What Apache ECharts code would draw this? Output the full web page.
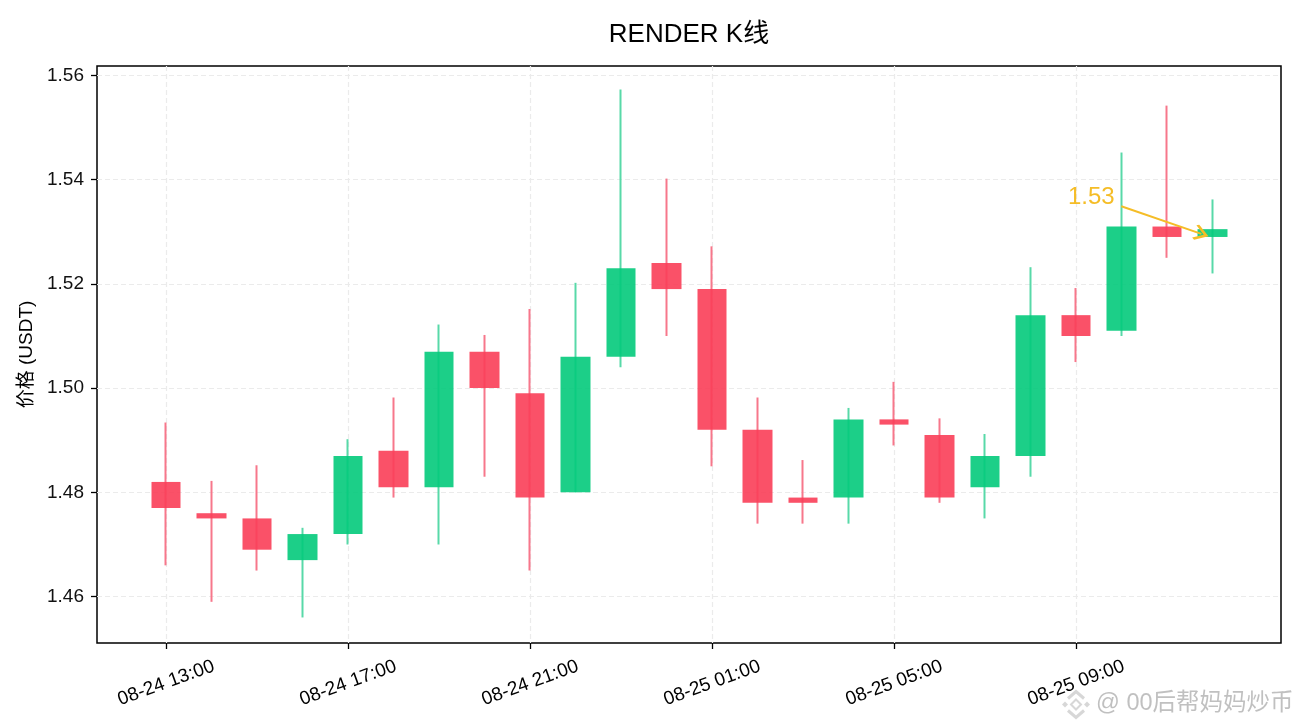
<!DOCTYPE html>
<html><head><meta charset="utf-8">
<style>html,body{margin:0;padding:0;background:#fff}#c{width:1300px;height:728px}</style>
<script src="https://cdn.jsdelivr.net/npm/echarts@6/dist/echarts.min.js"></script>
</head><body><div id="c"></div>
<script>
const titleText = 'RENDER K线';
const yAxisName = '价格 (USDT)';
const watermarkText = '@ 00后帮妈妈炒币';
const annotationText = '1.53';
const slots = [0,1,2,3,4,5,6,7,8,9,10,11,12,13,14,15,16,17,18,19,20,21,22,23];
const opens  = [1.482,1.476,1.475,1.467,1.472,1.488,1.481,1.507,1.499,1.480,1.506,1.524,1.519,1.492,1.479,1.479,1.494,1.491,1.481,1.487,1.514,1.511,1.531,1.529];
const closes = [1.477,1.475,1.469,1.472,1.487,1.481,1.507,1.500,1.479,1.506,1.523,1.519,1.492,1.478,1.478,1.494,1.493,1.479,1.487,1.514,1.510,1.531,1.529,1.5305];
const lows   = [1.466,1.459,1.465,1.456,1.470,1.479,1.470,1.483,1.465,1.480,1.504,1.510,1.485,1.474,1.474,1.474,1.489,1.478,1.475,1.483,1.505,1.510,1.525,1.522];
const highs  = [1.4934,1.4822,1.4852,1.4732,1.4902,1.4982,1.5122,1.5102,1.5152,1.5202,1.5573,1.5402,1.5272,1.4982,1.4862,1.4962,1.5012,1.4942,1.4912,1.5232,1.5192,1.5452,1.5542,1.5362];
const xTickSlots = [0,4,8,12,16,20];
const xTickLabels = ['08-24 13:00','08-24 17:00','08-24 21:00','08-25 01:00','08-25 05:00','08-25 09:00'];
const yTicks = [1.46,1.48,1.50,1.52,1.54,1.56];

const GREEN='rgba(3,202,123,0.9)', RED='rgba(249,62,88,0.9)', GREEN_W='#58D9A8', RED_W='#F7778B', GOLD='#F5BD27';
const FONT='"Liberation Sans","Noto Sans CJK SC",sans-serif';
const wickData = slots.map((s,i)=>[s,opens[i],closes[i],lows[i],highs[i]]);
const bodyData = slots.map((s,i)=>[s,opens[i],closes[i],Math.min(opens[i],closes[i]),Math.max(opens[i],closes[i])]);
const chevron='path://M0,0 L10,9 L8.2,10.8 L0,3.6 L-8.2,10.8 L-10,9 Z';
const LOGO='rgba(175,175,175,0.5)';
const chart=echarts.init(document.getElementById('c'),null,{renderer:'canvas'});
chart.setOption({
  animation:false,
  backgroundColor:'#fff',
  title:{text:titleText,left:684,top:17,textAlign:'center',textStyle:{fontFamily:FONT,fontSize:26,fontWeight:'normal',color:'#000'}},
  grid:{left:97,top:66,width:1184,height:577,show:true,borderColor:'#000',borderWidth:1.5,backgroundColor:'#fff'},
  xAxis:{type:'value',min:-1.52,max:24.5,
    axisLine:{show:false,onZero:false},
    axisTick:{show:true,length:6,customValues:xTickSlots,lineStyle:{color:'#000',width:1.3}},
    axisLabel:{customValues:xTickSlots,formatter:v=>xTickLabels[xTickSlots.indexOf(v)],rotate:20,align:'center',verticalAlign:'middle',margin:40,
      fontFamily:FONT,fontSize:19,color:'#000',hideOverlap:false},
    splitLine:{show:true,lineStyle:{type:[5,3],color:'#ebebeb',width:1.2}}},
  yAxis:{type:'value',min:1.4511,max:1.5618,scale:true,name:yAxisName,nameLocation:'middle',nameGap:54,nameRotate:90,
    nameTextStyle:{fontFamily:FONT,fontSize:19,color:'#000'},
    axisLine:{show:false,onZero:false},
    axisTick:{show:true,length:6,customValues:yTicks,lineStyle:{color:'#000',width:1.3}},
    axisLabel:{customValues:yTicks,formatter:v=>v.toFixed(2),margin:13,fontFamily:FONT,fontSize:19,color:'#111'},
    splitLine:{show:true,lineStyle:{type:[5,3],color:'#ebebeb',width:1.2}}},
  series:[
    {name:'wick',type:'candlestick',barWidth:1,z:2,data:wickData,encode:{x:0,y:[1,2,3,4]},silent:true,
      itemStyle:{color:GREEN_W,color0:RED_W,borderColor:GREEN_W,borderColor0:RED_W,borderWidth:2}},
    {name:'body',type:'candlestick',barWidth:30,z:3,data:bodyData,encode:{x:0,y:[1,2,3,4]},silent:true,
      itemStyle:{color:GREEN,color0:RED,borderColor:'transparent',borderColor0:'transparent',borderWidth:0},
      markPoint:{symbol:'circle',symbolSize:1,silent:true,itemStyle:{color:'transparent'},
        label:{show:true,position:'inside',formatter:annotationText,fontFamily:FONT,fontSize:24,color:GOLD},
        data:[{coord:[20.33,1.5366]}]},
      markLine:{silent:true,animation:false,symbol:['none',chevron],symbolSize:[16,15],
        lineStyle:{color:GOLD,width:2,type:'solid',opacity:1},label:{show:false},
        data:[[{coord:[20.99,1.5349]},{coord:[22.75,1.5296]}]]}}
  ],
  graphic:[
    {type:'text',z:100,left:1096,top:692,style:{text:watermarkText,fontFamily:FONT,fontSize:23.5,fill:'rgba(150,150,150,0.6)'}},
    {type:'group',z:100,left:1062,top:689,silent:true,children:[
      {type:'polygon',shape:{points:[[14,8],[19,13],[14,18],[9,13]]},style:{fill:'none',stroke:LOGO,lineWidth:2}},
      {type:'polyline',shape:{points:[[6,7],[14,0],[22,7]]},style:{fill:'none',stroke:LOGO,lineWidth:3}},
      {type:'polyline',shape:{points:[[6,19],[14,26],[22,19]]},style:{fill:'none',stroke:LOGO,lineWidth:3}},
      {type:'polygon',shape:{points:[[3,10],[6,13],[3,16],[0,13]]},style:{fill:LOGO}},
      {type:'polygon',shape:{points:[[25,10],[28,13],[25,16],[22,13]]},style:{fill:LOGO}}
    ]}
  ]
});
</script></body></html>
